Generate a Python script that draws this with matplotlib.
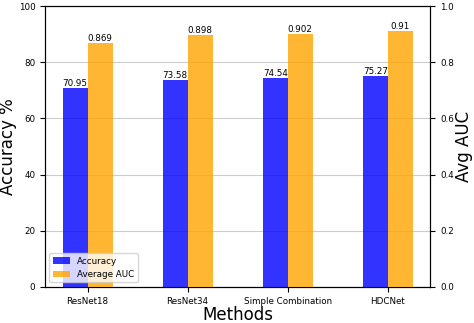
import matplotlib
matplotlib.use("Agg")
import matplotlib.pyplot as plt
import numpy as np

methods = ["ResNet18", "ResNet34", "Simple Combination", "HDCNet"]
accuracy = [70.95, 73.58, 74.54, 75.27]
avg_auc = [0.869, 0.898, 0.902, 0.91]
auc_labels = ["0.869", "0.898", "0.902", "0.91"]

x = np.arange(len(methods))
width = 0.25

fig, ax = plt.subplots(figsize=(4.74, 3.23), dpi=100)
ax2 = ax.twinx()

b1 = ax.bar(x - width / 2, accuracy, width, color="b", alpha=0.8, label="Accuracy", zorder=3)
b2 = ax2.bar(x + width / 2, avg_auc, width, color="orange", alpha=0.8, label="Average AUC", zorder=3)

for xi, v in zip(x, accuracy):
    ax.text(xi - width / 2, v, f"{v}", ha="center", va="bottom", fontsize=6.3)
for xi, v, s in zip(x, avg_auc, auc_labels):
    ax2.text(xi + width / 2, v, s, ha="center", va="bottom", fontsize=6.3)

ax.set_ylim(0, 100)
ax2.set_ylim(0, 1.0)
ax.set_xticks(x)
ax.set_xticklabels(methods, fontsize=6.3)
ax.tick_params(axis="y", labelsize=6.3)
ax2.tick_params(axis="y", labelsize=6.3)
ax.set_xlabel("Methods", fontsize=12, labelpad=0)
ax.set_ylabel("Accuracy %", fontsize=12, labelpad=1)
ax2.set_ylabel("Avg AUC", fontsize=12, labelpad=1)
ax.grid(axis="y", color="#cccccc", linewidth=0.8, zorder=0)
ax.set_axisbelow(True)

ax2.legend([b1, b2], ["Accuracy", "Average AUC"], loc="lower left", fontsize=6.3)

fig.subplots_adjust(left=0.095, right=0.908, top=0.981, bottom=0.112)
fig.savefig("out.png", dpi=100)
